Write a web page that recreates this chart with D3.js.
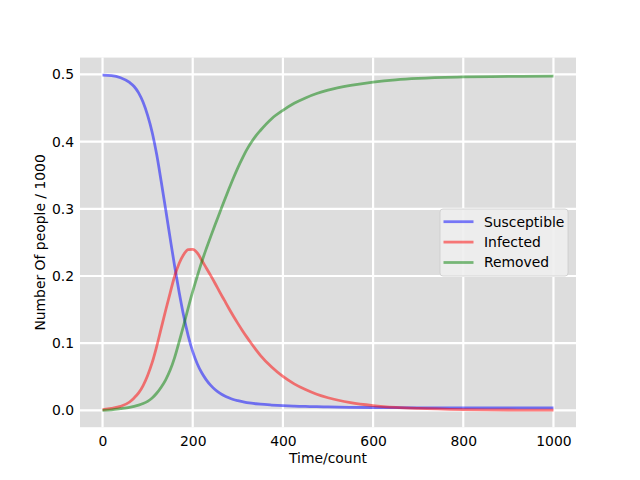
<!DOCTYPE html>
<html>
<head>
<meta charset="utf-8">
<script src="https://cdn.jsdelivr.net/npm/d3@7"></script>
<style>
  html, body { margin: 0; padding: 0; background: #ffffff; }
  svg { display: block; font-family: "DejaVu Sans", sans-serif; }
</style>
</head>
<body>
<svg id="chart" width="640" height="480"></svg>
<script>
// ---- data ----
const times = [0, 20, 40, 60, 70, 80, 90, 100, 110, 120, 130, 140, 150, 160, 170, 180, 190, 200,
               210, 220, 230, 240, 250, 260, 270, 280, 290, 300, 310, 320, 330, 340, 350,
               375, 400, 425, 450, 475, 500, 550, 600, 650, 700, 800, 900, 1000];
const susceptible = [0.4990, 0.4982, 0.4950, 0.4880, 0.4820, 0.4725, 0.4585, 0.4390, 0.4140, 0.3810,
                     0.3410, 0.2990, 0.2560, 0.2140, 0.1755, 0.1405, 0.1110, 0.0875,
                     0.0695, 0.0560, 0.0455, 0.0373, 0.0308, 0.0258, 0.0218, 0.0187, 0.0162, 0.0144,
                     0.0129, 0.0117, 0.0107, 0.0099, 0.0092,
                     0.0080, 0.0071, 0.0064, 0.0059, 0.0055, 0.0051, 0.0046, 0.0043, 0.0041, 0.0039,
                     0.0037, 0.0036, 0.0036];
const infected = [0.0012, 0.0030, 0.0060, 0.0125, 0.0185, 0.0260, 0.0370, 0.0520, 0.0710, 0.0950,
                  0.1220, 0.1490, 0.1750, 0.2000, 0.2190, 0.2320, 0.2393, 0.2395,
                  0.2345, 0.2235, 0.2120, 0.2005, 0.1885, 0.1760, 0.1640, 0.1520, 0.1405, 0.1295,
                  0.1190, 0.1090, 0.0995, 0.0905, 0.0820,
                  0.0645, 0.0505, 0.0395, 0.0310, 0.0240, 0.0188, 0.0115, 0.0072, 0.0045, 0.0029,
                  0.0012, 0.0006, 0.0004];
const removed = [0.0000, 0.0008, 0.0025, 0.0045, 0.0060, 0.0078, 0.0102, 0.0135, 0.0185, 0.0255,
                 0.0345, 0.0455, 0.0600, 0.0790, 0.1025, 0.1270, 0.1525, 0.1770,
                 0.1995, 0.2210, 0.2405, 0.2590, 0.2770, 0.2945, 0.3120, 0.3290, 0.3455, 0.3610,
                 0.3750, 0.3880, 0.3990, 0.4085, 0.4165,
                 0.4340, 0.4465, 0.4570, 0.4650, 0.4715, 0.4765, 0.4835, 0.4885, 0.4920, 0.4942,
                 0.4962, 0.4970, 0.4973];
const seriesNames = ["Susceptible", "Infected", "Removed"];
const seriesColors = ["#0000ff", "#ff0000", "#008000"];
const xTicks = [0, 200, 400, 600, 800, 1000];
const yTicks = [0.0, 0.1, 0.2, 0.3, 0.4, 0.5];
const xLabel = "Time/count";
const yLabel = "Number Of people / 1000";

// ---- layout ----
const svg = d3.select("#chart");
const padL = 80, padR = 576, padT = 57.6, padB = 427.2;

const x = d3.scaleLinear().domain([-50, 1050]).range([padL, padR]);
const y = d3.scaleLinear().domain([-0.025, 0.525]).range([padB, padT]);

// background
svg.append("rect").attr("x", padL).attr("y", padT)
  .attr("width", padR - padL).attr("height", padB - padT)
  .attr("fill", "#dddddd");

// grid
svg.append("g").selectAll("line").data(xTicks).join("line")
  .attr("x1", d => x(d)).attr("x2", d => x(d))
  .attr("y1", padT).attr("y2", padB)
  .attr("stroke", "#ffffff").attr("stroke-width", 2.2);
svg.append("g").selectAll("line").data(yTicks).join("line")
  .attr("y1", d => y(d)).attr("y2", d => y(d))
  .attr("x1", padL).attr("x2", padR)
  .attr("stroke", "#ffffff").attr("stroke-width", 2.2);

// axes (labels only, no ticks/spines)
const xAxis = d3.axisBottom(x).tickValues(xTicks).tickFormat(d3.format("d")).tickSize(0).tickPadding(9);
const gx = svg.append("g").attr("transform", `translate(0,${padB})`).call(xAxis);
gx.select(".domain").remove();
gx.selectAll("text").attr("font-size", "13.9px").attr("fill", "#000").attr("font-family", "DejaVu Sans");

const yAxis = d3.axisLeft(y).tickValues(yTicks).tickFormat(d3.format(".1f")).tickSize(0).tickPadding(6);
const gy = svg.append("g").attr("transform", `translate(${padL},0)`).call(yAxis);
gy.select(".domain").remove();
gy.selectAll("text").attr("font-size", "13.9px").attr("fill", "#000").attr("font-family", "DejaVu Sans");

// axis labels
svg.append("text").attr("x", (padL + padR) / 2).attr("y", 463)
  .attr("text-anchor", "middle").attr("font-size", "13.9px").attr("fill", "#000")
  .text(xLabel);
svg.append("text").attr("transform", `translate(45,${(padT + padB) / 2}) rotate(-90)`)
  .attr("text-anchor", "middle").attr("font-size", "13.9px").attr("fill", "#000")
  .text(yLabel);

// lines
const seriesData = [susceptible, infected, removed];
const line = d3.line()
  .x(d => x(d[0])).y(d => y(d[1]))
  .curve(d3.curveMonotoneX);
seriesData.forEach((vals, i) => {
  svg.append("path")
    .datum(times.map((t, j) => [t, vals[j]]))
    .attr("d", line)
    .attr("fill", "none")
    .attr("stroke", seriesColors[i])
    .attr("stroke-opacity", 0.5)
    .attr("stroke-width", 2.78)
    .attr("stroke-linejoin", "round");
});

// legend
const lg = svg.append("g");
lg.append("rect").attr("x", 440).attr("y", 209).attr("width", 128).attr("height", 67)
  .attr("rx", 3).attr("fill", "#eeeeee").attr("fill-opacity", 0.9)
  .attr("stroke", "#cccccc").attr("stroke-width", 0.8);
seriesNames.forEach((name, i) => {
  const yy = 221.7 + i * 20.4;
  lg.append("line").attr("x1", 443.5).attr("x2", 473.5).attr("y1", yy).attr("y2", yy)
    .attr("stroke", seriesColors[i]).attr("stroke-opacity", 0.5).attr("stroke-width", 2.78);
  lg.append("text").attr("x", 484).attr("y", yy).attr("dy", "0.35em")
    .attr("font-size", "13.9px").attr("fill", "#000").text(name);
});
</script>
</body>
</html>
